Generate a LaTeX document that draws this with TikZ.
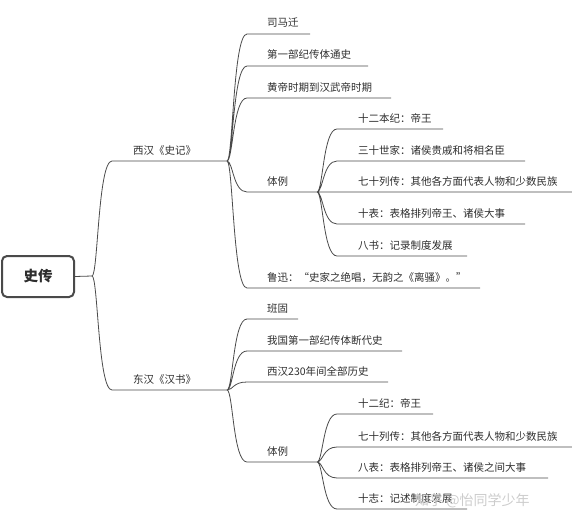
\documentclass[tikz,border=0pt]{standalone}
\usepackage{fontspec}
\setmainfont{Noto Sans CJK SC}
\usetikzlibrary{calc}
\definecolor{linegray}{HTML}{4A4A4A}
\definecolor{textgray}{HTML}{2E2E2E}
\begin{document}
\begin{tikzpicture}[x=1pt, y=-1pt,
            root/.style={draw=linegray, line width=2pt, rounded corners=5pt, minimum width=72pt, minimum height=41pt,
              font=\fontsize{14.5pt}{16pt}\selectfont\bfseries, text=textgray},
            leaf/.style={anchor=base west, inner sep=0pt, font=\fontsize{10.5pt}{12pt}\selectfont, text=textgray},
            twig/.style={draw=linegray, line width=0.8pt},
            elbow/.style={to path={.. controls ($(\tikztostart)+(6,0)$) and ($(\tikztostart |- \tikztotarget)+(6,0)$)
              .. ($(\tikztostart |- \tikztotarget)+(20,0)$) -- (\tikztotarget)}}
            ]
            \useasboundingbox (0,0) rectangle (572,527);

            % root
            \node[root] (shi) at (38,276.5) {史传};
            \coordinate (rfork) at (92,276);
            \draw[twig] (shi.east) -- (rfork);

            % 西汉
            \coordinate (xh) at (227,161);
            \node[leaf] (xhT) at (133,154) {西汉《史记》};
            \coordinate (xh1) at (310,34);
            \coordinate (xh2) at (368,66);
            \coordinate (xh3) at (391,98);
            \coordinate (xhl) at (317,192);
            \coordinate (xh5) at (480,288);
            \node[leaf] (xh1T) at (267,27) {司马迁};
            \node[leaf] (xh2T) at (267,59) {第一部纪传体通史};
            \node[leaf] (xh3T) at (267,91) {黄帝时期到汉武帝时期};
            \node[leaf] (xhlT) at (267,185) {体例};
            \node[leaf] (xh5T) at (267,281) {鲁迅：“史家之绝唱，无韵之《离骚》。”};

            \coordinate (xl1) at (443,129);
            \coordinate (xl2) at (525,161);
            \coordinate (xl3) at (572,192);
            \coordinate (xl4) at (525,224);
            \coordinate (xl5) at (467,256);
            \node[leaf] (xl1T) at (358,122) {十二本纪：帝王};
            \node[leaf] (xl2T) at (358,154) {三十世家：诸侯贵戚和将相名臣};
            \node[leaf] (xl3T) at (358,185) {七十列传：其他各方面代表人物和少数民族};
            \node[leaf] (xl4T) at (358,217) {十表：表格排列帝王、诸侯大事};
            \node[leaf] (xl5T) at (358,249) {八书：记录制度发展};

            % 东汉
            \coordinate (dh) at (227,390);
            \node[leaf] (dhT) at (133,383) {东汉《汉书》};
            \coordinate (dh1) at (298,319);
            \coordinate (dh2) at (402,351);
            \coordinate (dh3) at (388,382);
            \coordinate (dhl) at (317,462);
            \node[leaf] (dh1T) at (267,312) {班固};
            \node[leaf] (dh2T) at (267,344) {我国第一部纪传体断代史};
            \node[leaf] (dh3T) at (267,375) {西汉230年间全部历史};
            \node[leaf] (dhlT) at (267,455) {体例};

            \coordinate (dl1) at (433,414);
            \coordinate (dl2) at (572,447);
            \coordinate (dl3) at (548,478);
            \coordinate (dl4) at (467,509);
            \node[leaf] (dl1T) at (358,407) {十二纪：帝王};
            \node[leaf] (dl2T) at (358,440) {七十列传：其他各方面代表人物和少数民族};
            \node[leaf] (dl3T) at (358,471) {八表：表格排列帝王、诸侯之间大事};
            \node[leaf] (dl4T) at (358,502) {十志：记述制度发展};

            \draw[twig] (rfork) to[elbow] (xh) (rfork) to[elbow] (dh);
            \draw[twig] (xh) to[elbow] (xh1) (xh) to[elbow] (xh2) (xh) to[elbow] (xh3)
                        (xh) to[elbow] (xhl) (xh) to[elbow] (xh5);
            \draw[twig] (xhl) to[elbow] (xl1) (xhl) to[elbow] (xl2) (xhl) to[elbow] (xl3)
                        (xhl) to[elbow] (xl4) (xhl) to[elbow] (xl5);
            \draw[twig] (dh) to[elbow] (dh1) (dh) to[elbow] (dh2) (dh) to[elbow] (dh3)
                        (dh) to[elbow] (dhl);
            \draw[twig] (dhl) to[elbow] (dl1) (dhl) to[elbow] (dl2) (dhl) to[elbow] (dl3)
                        (dhl) to[elbow] (dl4);

            % watermark
            \node[anchor=base west, inner sep=0pt, font=\fontsize{14pt}{16pt}\selectfont, text=gray!40] (mark) at (415,505) {知乎 @怡同学少年};
\end{tikzpicture}
\end{document}
